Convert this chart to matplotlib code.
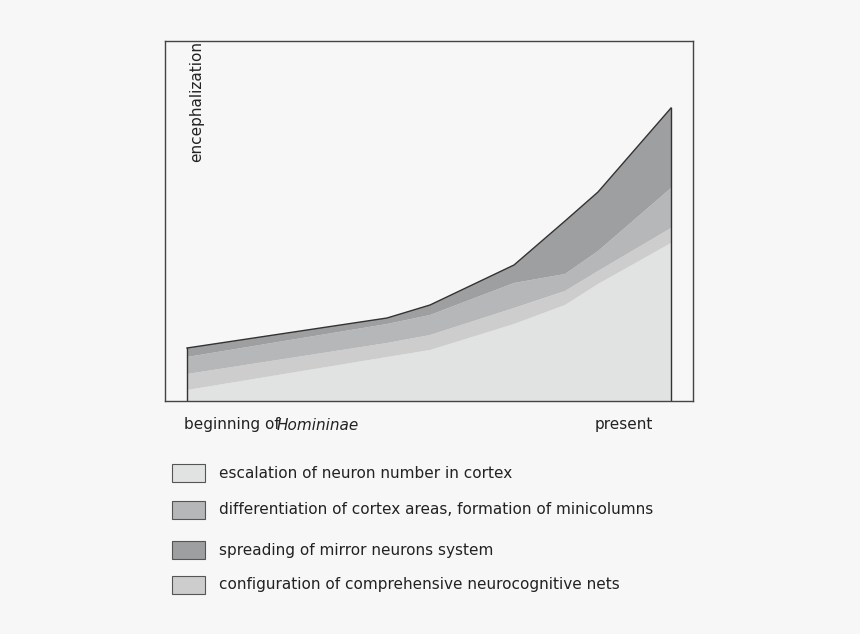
import matplotlib.pyplot as plt
from matplotlib.patches import Rectangle

x = [187, 387, 430, 514, 565, 598, 671]
neuron = [11, 44, 51, 77, 96, 117, 158]
config = [16, 14, 15, 16, 14, 13, 15]
diff = [17, 19, 20, 25, 17, 20, 40]
mirror = [9, 6, 10, 18, 53, 59, 80]
labels = ["escalation of neuron number in cortex",
          "differentiation of cortex areas, formation of minicolumns",
          "spreading of mirror neurons system",
          "configuration of comprehensive neurocognitive nets"]
colors = {"neuron": "#e1e2e2", "config": "#cdcdce", "diff": "#b6b7b8", "mirror": "#9e9fa0"}

bg = "#f7f7f7"
fig = plt.figure(figsize=(8.6, 6.34), dpi=100, facecolor=bg)
ax = fig.add_axes([165/860, 1-401/634, 528/860, 360/634], facecolor=bg)
ax.stackplot(x, neuron, config, diff, mirror,
             colors=[colors["neuron"], colors["config"], colors["diff"], colors["mirror"]], lw=0)
top = [a+b+c+d for a, b, c, d in zip(neuron, config, diff, mirror)]
ax.plot(x, top, color="#333333", lw=1)
ax.plot([x[0], x[0]], [0, top[0]], color="#333333", lw=1)
ax.plot([x[-1], x[-1]], [0, top[-1]], color="#333333", lw=1)
ax.set_xlim(165, 693)
ax.set_ylim(0, 360)
ax.set_xticks([]); ax.set_yticks([])
for s in ax.spines.values():
    s.set_color("#444444"); s.set_linewidth(1)
ax.text(197, 300, "encephalization", rotation=90, ha="center", va="center", fontsize=11, color="#222222")

fig.text(184/860, 1-425/634, "beginning of ", fontsize=11, va="center", color="#222222")
fig.text(277/860, 1-425/634, "Homininae", fontsize=11, va="center", style="italic", color="#222222")
fig.text(595/860, 1-425/634, "present", fontsize=11, va="center", color="#222222")

leg_y = [473, 510, 550, 585]
leg_c = [colors["neuron"], colors["diff"], colors["mirror"], colors["config"]]
for yy, c, lab in zip(leg_y, leg_c, labels):
    fig.patches.append(Rectangle((172/860, 1-(yy+9)/634), 33/860, 18/634, transform=fig.transFigure,
                                 facecolor=c, edgecolor="#555555", lw=0.8))
    fig.text(219/860, 1-yy/634, lab, fontsize=11, va="center", color="#222222")

fig.savefig("out.png", dpi=100, facecolor=bg)
